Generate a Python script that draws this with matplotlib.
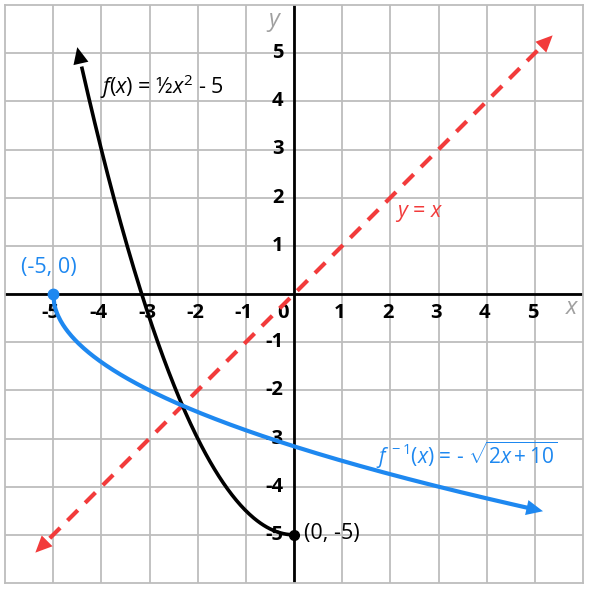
import numpy as np
import matplotlib
matplotlib.use('Agg')
import matplotlib.pyplot as plt

plt.rcParams['font.family'] = ['Open Sans', 'DejaVu Sans']
plt.rcParams['mathtext.fontset'] = 'custom'
plt.rcParams['mathtext.rm'] = 'Open Sans'
plt.rcParams['mathtext.it'] = 'Open Sans:italic'
plt.rcParams['mathtext.bf'] = 'Open Sans:bold'

# chart values
x_ticks = [-5, -4, -3, -2, -1, 1, 2, 3, 4, 5]
y_ticks = [5, 4, 3, 2, 1, -1, -2, -3, -4, -5]
f_coef = 0.5          # f(x) = 1/2 x^2 - 5
f_shift = -5
f_domain = (-4.5, 0)
finv_domain = (-5, 5.17)
yx_domain = (-5.37, 5.37)
points = [(-5, 0), (0, -5)]
point_labels = ['(-5, 0)', '(0, -5)']

red = '#f23b3b'
blue = '#1e88f0'
grid_c = '#bdbdbd'

fig = plt.figure(figsize=(5.89, 5.89), dpi=100)
ax = fig.add_axes([5/589, 6/589, 578/589, 578/589])
ax.set_xlim(-6, 6)
ax.set_ylim(-6, 6)
ax.set_xticks([])
ax.set_yticks([])
for s in ax.spines.values():
    s.set_color(grid_c)
    s.set_linewidth(1.3)

for v in range(-5, 6):
    ax.axvline(v, color=grid_c, lw=1.3, zorder=1)
    ax.axhline(v, color=grid_c, lw=1.3, zorder=1)
ax.axhline(0, color='black', lw=2, zorder=2)
ax.axvline(0, color='black', lw=2, zorder=2)

head = '-|>,head_length=1.2,head_width=0.55'

# y = x dashed
xd = np.linspace(yx_domain[0] + 0.3, yx_domain[1] - 0.3, 2)
ax.plot(xd, xd, color=red, lw=3, dashes=(3.5, 2.5), zorder=4)
for a, b in [(yx_domain[1], yx_domain[1] - 0.4), (yx_domain[0], yx_domain[0] + 0.4)]:
    ax.annotate('', xy=(a, a), xytext=(b, b),
                arrowprops=dict(arrowstyle=head, color=red, lw=0,
                                shrinkA=0, shrinkB=0), zorder=5)

# f(x)
xf = np.linspace(f_domain[0], f_domain[1], 200)
yf = f_coef * xf**2 + f_shift
ax.plot(xf[4:], yf[4:], color='black', lw=2.6, zorder=6, solid_capstyle='butt')
ax.annotate('', xy=(xf[0], yf[0]), xytext=(xf[8], yf[8]),
            arrowprops=dict(arrowstyle=head, color='black', lw=0,
                            shrinkA=0, shrinkB=0), zorder=6)

# inverse
xi = np.linspace(finv_domain[0], finv_domain[1], 400)
yi = -np.sqrt(np.clip(2 * xi + 10, 0, None))
ax.plot(xi[:-8], yi[:-8], color=blue, lw=3, zorder=7, solid_capstyle='butt')
ax.annotate('', xy=(xi[-1], yi[-1]), xytext=(xi[-20], yi[-20]),
            arrowprops=dict(arrowstyle=head, color=blue, lw=0,
                            shrinkA=0, shrinkB=0), zorder=7)

ax.plot(*points[0], 'o', color=blue, ms=7.5, zorder=8)
ax.plot(*points[1], 'o', color='black', ms=7, zorder=8)

# tick labels
tk = dict(fontsize=14.5, fontweight='bold', zorder=3)
for v in x_ticks:
    ax.text(v - 0.05, -0.4, str(v), ha='center', va='center', **tk)
for v in y_ticks:
    ax.text(-0.22, v, str(v), ha='right', va='center', **tk)
ax.text(-0.22, -0.4, '0', ha='center', va='center', **tk)
ax.text(5.77, -0.3, 'x', ha='center', va='center', fontsize=17,
        style='italic', color='#a0a0a0')
ax.text(-0.42, 5.68, 'y', ha='center', va='center', fontsize=17,
        style='italic', color='#a0a0a0')

# annotations
ax.text(-5.1, 0.55, point_labels[0], ha='center', va='center', fontsize=15.5,
        color=blue)
ax.text(0.2, -4.97, point_labels[1], ha='left', va='center', fontsize=15.5,
        color='black')
ax.text(2.6, 1.68, '$y$ = $x$', ha='center', va='center', fontsize=15.5, color=red)
ax.text(-4.03, 4.3, r'$f(x)$ = ½$x^2$ - 5', ha='left', va='center', fontsize=15.5,
        color='black')
ax.text(1.7, -3.34, r'$f^{\,-1}(x)$ = - $\sqrt{2x + 10}$', ha='left', va='center',
        fontsize=15, color=blue)

fig.savefig('out.png', dpi=100)
